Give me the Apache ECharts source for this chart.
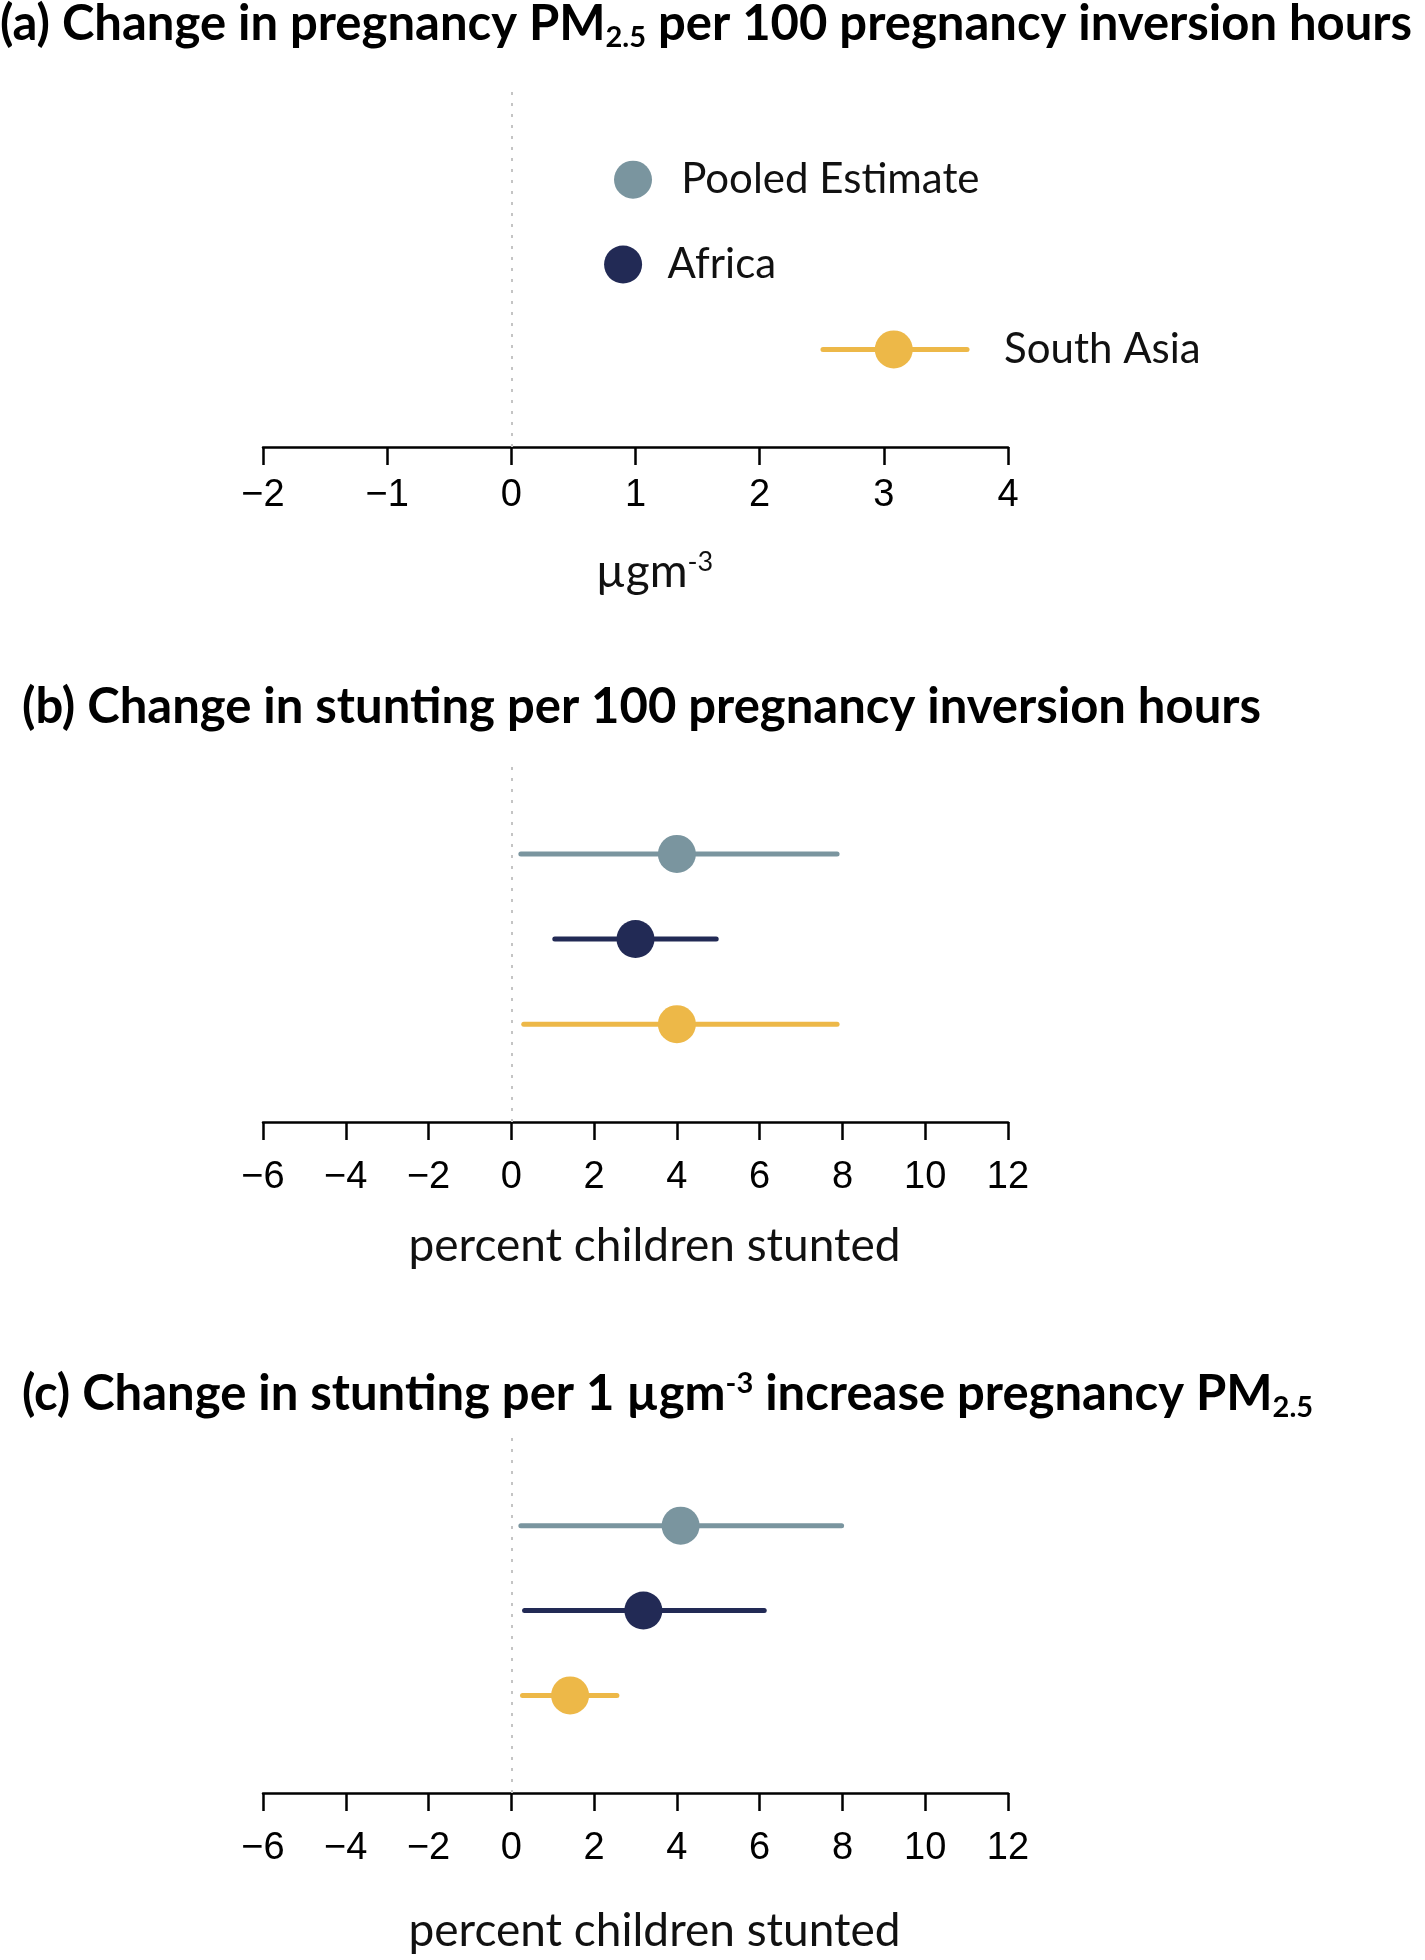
<!DOCTYPE html>
<html><head><meta charset="utf-8">
<script src="https://cdn.jsdelivr.net/npm/echarts@6/dist/echarts.min.js"></script>
<style>html,body{margin:0;padding:0;background:#fff}#c{width:1425px;height:1960px}</style>
</head><body><div id="c"></div>
<script>
const regions = ['Pooled Estimate', 'Africa', 'South Asia'];
const regionColors = ['#7A959F', '#222A55', '#EDB848'];
// (a) change in pregnancy PM2.5 per 100 inversion hours
const estA = [0.98, 0.90, 3.08];
const loA  = [0.89, 0.84, 2.51];
const hiA  = [1.07, 0.96, 3.67];
// (b) change in stunting per 100 inversion hours
const estB = [4.00, 3.00, 4.00];
const loB  = [0.23, 1.05, 0.30];
const hiB  = [7.87, 4.95, 7.87];
// (c) change in stunting per 1 µgm-3 PM2.5
const estC = [4.09, 3.19, 1.42];
const loC  = [0.23, 0.32, 0.27];
const hiC  = [7.98, 6.11, 2.55];
const ticksA  = [-2, -1, 0, 1, 2, 3, 4];
const ticksBC = [-6, -4, -2, 0, 2, 4, 6, 8, 10, 12];
const titleTexts = [
  '(a) Change in pregnancy PM{sub|2.5} per 100 pregnancy inversion hours',
  '(b) Change in stunting per 100 pregnancy inversion hours',
  '(c) Change in stunting per 1 µgm{sup|-3} increase pregnancy PM{sub|2.5}'
];
const axisNames = ['µgm{sup|-3}', 'percent children stunted', 'percent children stunted'];

const chart = echarts.init(document.getElementById('c'));
const TITLE_FONT = 'Lato';
const titleStyle = {
  fontFamily: TITLE_FONT, fontWeight: 'bold', fontSize: 49, color: '#000',
  rich: {
    sub: {fontFamily: TITLE_FONT, fontWeight: 'bold', fontSize: 29, color: '#000', padding: [26, 0, 0, 0]},
    sup: {fontFamily: TITLE_FONT, fontWeight: 'bold', fontSize: 29, color: '#000', padding: [0, 0, 22, 0]}
  }
};
const titlePos = [[0, -3], [22, 683], [22, 1367]];

const gridTops = [88, 762, 1434];
const gridHeights = [359, 360, 359];
const nameGaps = [102, 101, 115];
const labelMargins = [30, 37, 37];
const panels = [
  {est: estA, lo: loA, hi: hiA, ticks: ticksA, labels: true},
  {est: estB, lo: loB, hi: hiB, ticks: ticksBC, labels: false},
  {est: estC, lo: loC, hi: hiC, ticks: ticksBC, labels: false}
];

function makeRender(showLabels) {
  return function (params, api) {
    const i = params.dataIndex;
    const yv = regions.length - i;
    const pE = api.coord([api.value(0), yv]);
    const pL = api.coord([api.value(1), yv]);
    const pH = api.coord([api.value(2), yv]);
    const children = [
      {type: 'line', shape: {x1: pL[0], y1: pL[1], x2: pH[0], y2: pH[1]},
       style: {stroke: regionColors[i], lineWidth: 5, lineCap: 'round'}},
      {type: 'circle', shape: {cx: pE[0], cy: pE[1], r: 19}, style: {fill: regionColors[i]}}
    ];
    if (showLabels) {
      children.push({type: 'text', style: {text: regions[i], x: pH[0] + 37, y: pH[1],
        align: 'left', verticalAlign: 'middle', fontFamily: 'Lato', fontSize: 42, fill: '#111'}});
    }
    return {type: 'group', children: children};
  };
}

const minusFmt = v => String(v).replace('-', '\u2212');

const option = {
  backgroundColor: '#fff',
  animation: false,
  title: titleTexts.map((t, k) => ({text: t, left: titlePos[k][0], top: titlePos[k][1], padding: 0, textStyle: titleStyle})),
  grid: panels.map((p, k) => ({left: 263, width: 745, top: gridTops[k], height: gridHeights[k]})),
  xAxis: panels.map((p, k) => ({
    type: 'value', gridIndex: k,
    min: p.ticks[0], max: p.ticks[p.ticks.length - 1], interval: p.ticks[1] - p.ticks[0],
    axisLine: {show: true, onZero: false, lineStyle: {color: '#000', width: 2.5}},
    axisTick: {show: true, length: 18, lineStyle: {color: '#000', width: 2.5}},
    axisLabel: {fontFamily: 'Liberation Sans', fontSize: 38, color: '#000', margin: labelMargins[k], formatter: minusFmt},
    splitLine: {show: false},
    name: axisNames[k], nameLocation: 'middle', nameGap: nameGaps[k],
    nameTextStyle: {fontFamily: 'Lato', fontSize: 46, color: '#111', padding: [0, 0, 0, 38],
      rich: {sup: {fontFamily: 'Lato', fontSize: 27, color: '#111', padding: [0, 0, 20, 0]}}}
  })),
  yAxis: panels.map((p, k) => ({type: 'value', gridIndex: k, min: -0.15, max: 4.08, show: false, splitLine: {show: false}})),
  series: []
};
panels.forEach((p, k) => {
  option.series.push({
    type: 'line', xAxisIndex: k, yAxisIndex: k, data: [], silent: true,
    markLine: {silent: true, symbol: ['none', 'none'], label: {show: false},
      lineStyle: {color: '#c4c4c4', width: 2, type: [3, 8]}, data: [{xAxis: 0}]}
  });
  option.series.push({
    type: 'custom', xAxisIndex: k, yAxisIndex: k,
    renderItem: makeRender(p.labels),
    data: regions.map((r, i) => [p.est[i], p.lo[i], p.hi[i]])
  });
});
chart.setOption(option);
</script></body></html>
